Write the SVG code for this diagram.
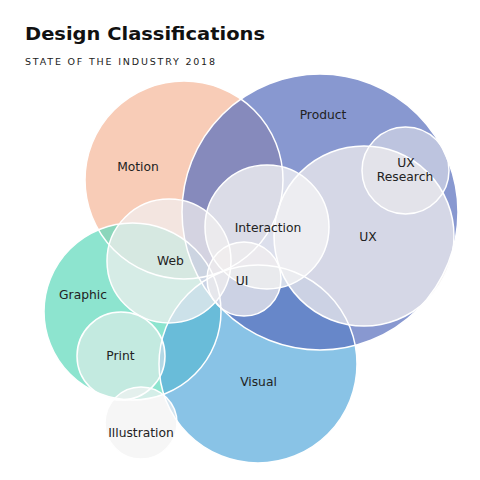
<svg xmlns="http://www.w3.org/2000/svg" width="480" height="480" viewBox="0 0 480 480">
  <style>
    .title { font-family: "DejaVu Sans", "Liberation Sans", sans-serif; font-weight: bold; font-size: 17px; fill: #111111; }
    .subtitle { font-family: "DejaVu Sans", "Liberation Sans", sans-serif; font-size: 9.5px; fill: #222222; }
    .label { font-family: "DejaVu Sans", "Liberation Sans", sans-serif; font-size: 12.3px; fill: #222222; text-anchor: middle; }
    .outline { fill: none; stroke: #ffffff; stroke-width: 1.5; }
    .f-motion { fill: #F5B89B; fill-opacity: 0.72; }
    .f-graphic { fill: #61D9BC; fill-opacity: 0.72; }
    .f-visual { fill: #5CACDC; fill-opacity: 0.72; }
    .f-product { fill: #5A70BE; fill-opacity: 0.72; }
    .f-light { fill: #F1EFEE; fill-opacity: 0.73; }
    .f-inter { fill: #F4F3F4; fill-opacity: 0.78; }
    .f-uxr { fill: #F1EFEE; fill-opacity: 0.5; }
    .f-print { fill: #F1EFEE; fill-opacity: 0.55; }
    .f-illus { fill: #F2F2F2; fill-opacity: 0.7; }
  </style>
  <defs>
    <circle id="c-motion" cx="184" cy="180" r="99"/>
    <circle id="c-graphic" cx="132.5" cy="311.5" r="88.5"/>
    <circle id="c-visual" cx="258" cy="364" r="99"/>
    <circle id="c-product" cx="320" cy="212" r="138"/>
    <circle id="c-ux" cx="364" cy="236" r="90"/>
    <circle id="c-uxr" cx="405.5" cy="170.5" r="43.5"/>
    <circle id="c-interaction" cx="267" cy="227" r="62"/>
    <circle id="c-ui" cx="244" cy="279" r="37"/>
    <circle id="c-web" cx="169" cy="261" r="62"/>
    <circle id="c-print" cx="121" cy="356" r="44"/>
    <circle id="c-illustration" cx="141" cy="423" r="36"/>
  </defs>
  <rect width="480" height="480" fill="#ffffff"/>
  <g id="header">
    <text class="title" x="25" y="40" textLength="240" lengthAdjust="spacingAndGlyphs">Design Classifications</text>
    <text class="subtitle" x="25" y="64.5" textLength="190">STATE OF THE INDUSTRY 2018</text>
  </g>
  <g id="fills">
    <use id="motion" href="#c-motion" class="f-motion"/>
    <use id="graphic" href="#c-graphic" class="f-graphic"/>
    <use id="visual" href="#c-visual" class="f-visual"/>
    <use id="product" href="#c-product" class="f-product"/>
    <use id="ux" href="#c-ux" class="f-light"/>
    <use id="ux-research" href="#c-uxr" class="f-uxr"/>
    <use id="interaction" href="#c-interaction" class="f-inter"/>
    <use id="ui" href="#c-ui" class="f-light"/>
    <use id="web" href="#c-web" class="f-light"/>
    <use id="print" href="#c-print" class="f-print"/>
    <use id="illustration" href="#c-illustration" class="f-illus"/>
  </g>
  <g id="outlines">
    <use href="#c-motion" class="outline"/>
    <use href="#c-graphic" class="outline"/>
    <use href="#c-visual" class="outline"/>
    <use href="#c-product" class="outline"/>
    <use href="#c-ux" class="outline"/>
    <use href="#c-uxr" class="outline"/>
    <use href="#c-interaction" class="outline"/>
    <use href="#c-ui" class="outline"/>
    <use href="#c-web" class="outline"/>
    <use href="#c-print" class="outline"/>
    <use href="#c-illustration" class="outline"/>
  </g>
  <g id="labels">
    <text class="label" x="138" y="171">Motion</text>
    <text class="label" x="323" y="119">Product</text>
    <text class="label" x="406" y="167">UX</text>
    <text class="label" x="405" y="180.5">Research</text>
    <text class="label" x="268" y="232">Interaction</text>
    <text class="label" x="368" y="241">UX</text>
    <text class="label" x="242" y="285">UI</text>
    <text class="label" x="170.5" y="264.5">Web</text>
    <text class="label" x="83" y="299">Graphic</text>
    <text class="label" x="120.5" y="360">Print</text>
    <text class="label" x="258.5" y="386">Visual</text>
    <text class="label" x="141" y="436.5">Illustration</text>
  </g>
</svg>
